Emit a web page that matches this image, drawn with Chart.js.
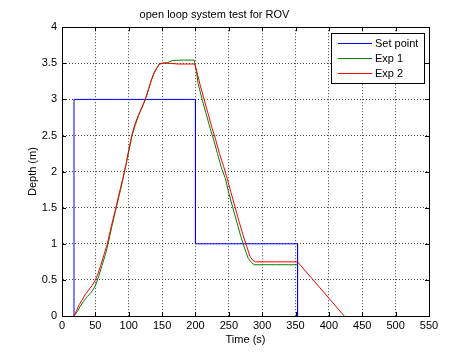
<!DOCTYPE html>
<html>
<head>
<meta charset="utf-8">
<script src="https://cdn.jsdelivr.net/npm/chart.js@4.4.0/dist/chart.umd.min.js"></script>
<style>
html,body{margin:0;padding:0;background:#fff;}
#wrap{width:474px;height:355px;}
</style>
</head>
<body>
<div id="wrap"><canvas id="c" width="474" height="355"></canvas></div>
<script>
// ---- data ----
const titleText = "open loop system test for ROV";
const xLabel = "Time (s)";
const yLabel = "Depth (m)";
const seriesNames = ["Set point", "Exp 1", "Exp 2"];

const setT = [18, 18, 200, 200, 353, 353];
const setD = [0, 3, 3, 1, 1, 0];

const exp1T = [18, 23, 27, 32, 38, 44, 49, 52, 55, 60, 65, 69, 75, 80, 86, 91, 96, 101, 105, 110, 115, 118, 122, 126, 130, 134, 138, 142, 146, 150, 158, 166, 182, 198, 201, 204, 210, 216, 222, 227, 233, 239, 245, 250, 256, 262, 268, 274, 279, 284, 288, 300, 320, 340, 353];
const exp1D = [0, 0.06, 0.13, 0.2, 0.27, 0.33, 0.4, 0.47, 0.55, 0.7, 0.85, 1.0, 1.25, 1.45, 1.68, 1.88, 2.1, 2.32, 2.5, 2.65, 2.78, 2.85, 2.93, 3.03, 3.15, 3.27, 3.36, 3.43, 3.49, 3.5, 3.51, 3.54, 3.545, 3.545, 3.42, 3.22, 3.0, 2.8, 2.6, 2.45, 2.25, 2.05, 1.9, 1.7, 1.5, 1.3, 1.1, 0.93, 0.8, 0.74, 0.71, 0.71, 0.71, 0.71, 0.71];

const exp2T = [18, 22, 26, 30, 35, 40, 45, 49, 53, 58, 63, 68, 74, 80, 85, 91, 96, 100, 104, 109, 114, 117, 121, 126, 130, 134, 138, 142, 146, 150, 160, 175, 190, 199, 203, 207, 213, 219, 225, 230, 236, 242, 247, 253, 259, 265, 271, 277, 282, 286, 290, 320, 353, 423];
const exp2D = [0, 0.08, 0.16, 0.22, 0.3, 0.36, 0.42, 0.48, 0.56, 0.7, 0.85, 1.0, 1.25, 1.47, 1.67, 1.9, 2.1, 2.3, 2.48, 2.65, 2.77, 2.83, 2.92, 3.03, 3.15, 3.27, 3.37, 3.44, 3.49, 3.5, 3.5, 3.49, 3.49, 3.49, 3.35, 3.2, 3.0, 2.8, 2.6, 2.45, 2.25, 2.08, 1.92, 1.72, 1.52, 1.32, 1.13, 0.96, 0.82, 0.77, 0.75, 0.75, 0.75, 0];

const xTicks = [0, 50, 100, 150, 200, 250, 300, 350, 400, 450, 500, 550];
const yTicks = [0, 0.5, 1, 1.5, 2, 2.5, 3, 3.5, 4];

const colors = ["#0000ff", "#008000", "#ff0000"];

function pts(xs, ys){ return xs.map((x,i)=>({x:x, y:ys[i]})); }

Chart.defaults.font.family = "'Liberation Sans', Arial, Helvetica, sans-serif";
Chart.defaults.font.size = 11;
Chart.defaults.color = "#000";

// box border + inward ticks (MATLAB style)
const boxPlugin = {
  id: 'boxPlugin',
  afterDatasetsDraw(chart){
    const {ctx, chartArea:a, scales} = chart;
    ctx.save();
    ctx.strokeStyle = "#000";
    ctx.lineWidth = 1;
    ctx.setLineDash([]);
    ctx.strokeRect(Math.round(a.left)+0.5, Math.round(a.top)+0.5, Math.round(a.right-a.left), Math.round(a.bottom-a.top));
    const tl = 4;
    ctx.beginPath();
    scales.x.ticks.forEach(t=>{
      const px = Math.round(scales.x.getPixelForValue(t.value))+0.5;
      ctx.moveTo(px, a.bottom); ctx.lineTo(px, a.bottom-tl);
      ctx.moveTo(px, a.top); ctx.lineTo(px, a.top+tl);
    });
    scales.y.ticks.forEach(t=>{
      const py = Math.round(scales.y.getPixelForValue(t.value))+0.5;
      ctx.moveTo(a.left, py); ctx.lineTo(a.left+tl, py);
      ctx.moveTo(a.right, py); ctx.lineTo(a.right-tl, py);
    });
    ctx.stroke();
    ctx.restore();
  }
};

// MATLAB-like legend box inside the plot area (north-east)
const legendPlugin = {
  id: 'legendBox',
  afterDraw(chart){
    const {ctx, chartArea:a} = chart;
    const w = 93, h = 50;
    const x0 = Math.round(a.right - 5 - w), y0 = Math.round(a.top + 6);
    ctx.save();
    ctx.fillStyle = "#fff";
    ctx.fillRect(x0, y0, w, h);
    ctx.strokeStyle = "#000";
    ctx.lineWidth = 1;
    ctx.setLineDash([]);
    ctx.strokeRect(x0+0.5, y0+0.5, w, h);
    ctx.font = "11px 'Liberation Sans', Arial, sans-serif";
    ctx.textBaseline = "middle";
    ctx.textAlign = "left";
    seriesNames.forEach((name,i)=>{
      const y = Math.round(y0 + 10 + 15*i) + 0.5;
      ctx.strokeStyle = colors[i];
      ctx.lineWidth = 1;
      ctx.beginPath();
      ctx.moveTo(x0+7, y); ctx.lineTo(x0+41, y);
      ctx.stroke();
      ctx.fillStyle = "#000";
      ctx.fillText(name, x0+44, y);
    });
    ctx.restore();
  }
};

const gridCommon = {
  color: "#444",
  lineWidth: 1,
  drawTicks: false
};

new Chart(document.getElementById('c'), {
  type: 'scatter',
  data: {
    datasets: [
      {label: seriesNames[0], data: pts(setT, setD), borderColor: colors[0], backgroundColor: colors[0], order: 3},
      {label: seriesNames[1], data: pts(exp1T, exp1D), borderColor: colors[1], backgroundColor: colors[1], order: 2},
      {label: seriesNames[2], data: pts(exp2T, exp2D), borderColor: colors[2], backgroundColor: colors[2], order: 1}
    ].map(d => Object.assign(d, {showLine: true, pointRadius: 0, borderWidth: 1, fill: false, tension: 0}))
  },
  options: {
    responsive: false,
    animation: false,
    events: [],
    layout: {padding: {left: 0, right: 45, top: 0, bottom: 0}},
    plugins: {
      legend: {display: false},
      tooltip: {enabled: false},
      title: {
        display: true,
        text: titleText,
        color: "#000",
        font: {size: 11, weight: 'normal'},
        padding: {top: 8, bottom: 6}
      }
    },
    scales: {
      x: {
        type: 'linear',
        min: 0, max: 550,
        afterBuildTicks(s){ s.ticks = xTicks.map(v=>({value:v})); },
        ticks: {padding: 3, color: "#000", font: {size: 11}, maxRotation: 0, autoSkip: false, callback: v => String(v)},
        grid: gridCommon,
        border: {display: true, color: "#000", width: 1, dash: [1, 2]},
        title: {display: true, text: xLabel, color: "#000", font: {size: 11}, padding: {top: 0, bottom: 8}},
        afterFit(s){ s.height = 39; }
      },
      y: {
        type: 'linear',
        min: 0, max: 4,
        afterBuildTicks(s){ s.ticks = yTicks.map(v=>({value:v})); },
        ticks: {padding: 5, color: "#000", font: {size: 11}, autoSkip: false, callback: v => String(v)},
        grid: gridCommon,
        border: {display: true, color: "#000", width: 1, dash: [1, 2]},
        title: {display: true, text: yLabel, color: "#000", font: {size: 11}, padding: {top: 26, bottom: 0}},
        afterFit(s){ s.width = 62; }
      }
    }
  },
  plugins: [boxPlugin, legendPlugin]
});
</script>
</body>
</html>
